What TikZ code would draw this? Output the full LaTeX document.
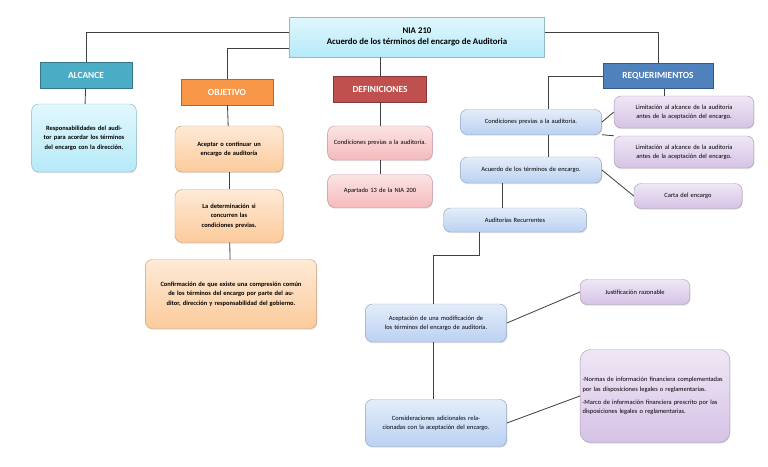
\documentclass[tikz,border=0pt]{standalone}
\usepackage{fontspec}
\setmainfont{Carlito}
\usetikzlibrary{positioning,shadows}
\definecolor{tealhd}{HTML}{4BACC6}
\definecolor{orghd}{HTML}{F79646}
\definecolor{redhd}{HTML}{C0504D}
\definecolor{bluehd}{HTML}{4F81BD}
\tikzset{
  head/.style={draw=#1!70!black, fill=#1, text=white, font=\bfseries\fontsize{8}{9}\selectfont, minimum height=0.78cm, inner sep=1pt},
  box/.style={draw=#1!60!gray, rounded corners=6pt, top color=#1!30, bottom color=#1!75,
    drop shadow={opacity=.25,shadow xshift=.5pt,shadow yshift=-1pt}, align=center, inner sep=2pt,
    font=\fontsize{5.5}{8}\selectfont},
  link/.style={draw=black!75, line width=0.7pt},
}
\definecolor{cyanbx}{HTML}{9DE3F7}
\definecolor{orgbx}{HTML}{FBB979}
\definecolor{redbx}{HTML}{F2A3A6}
\definecolor{bluebx}{HTML}{A4C2EE}
\definecolor{purbx}{HTML}{C8AEDD}
\begin{document}
\begin{tikzpicture}[x=0.03cm,y=-0.03cm]
\useasboundingbox (0,0) rectangle (768,466);

%% top and headers
\node[box=cyanbx, minimum width=7.65cm, minimum height=1.2cm, font=\bfseries\fontsize{7.5}{9}\selectfont, rounded corners=0pt] (nia) at (417,37) {NIA 210\\Acuerdo de los términos del encargo de Auditoria};
\node[head=tealhd, minimum width=2.76cm] (alcance) at (86,75) {ALCANCE};
\node[head=orghd, minimum width=2.76cm] (objetivo) at (227,92) {OBJETIVO};
\node[head=redhd, minimum width=2.79cm] (definic) at (380,89) {DEFINICIONES};
\node[head=bluehd, minimum width=3.3cm, minimum height=0.75cm] (requer) at (658,76) {REQUERIMIENTOS};

%% alcance / objetivo / definiciones
\node[box=cyanbx, text width=3.0cm, minimum height=2.04cm, font=\bfseries\fontsize{5.5}{8}\selectfont] (alc1) at (84,138) {Responsabilidades del auditor para acordar los términos del encargo con la dirección.};
\node[box=orgbx, text width=3.1cm, minimum height=1.38cm, font=\bfseries\fontsize{5.5}{8}\selectfont] (obj1) at (229,149) {Aceptar o continuar un encargo de auditoría};
\node[box=orgbx, text width=3.1cm, minimum height=1.59cm, font=\bfseries\fontsize{5.5}{8}\selectfont] (obj2) at (229,216) {La determinación si\\concurren las\\condiciones previas.};
\node[box=orgbx, text width=5.0cm, minimum height=2.07cm, font=\bfseries\fontsize{5.5}{8}\selectfont] (obj3) at (231,294) {Confirmación de que existe una compresión común de los términos del encargo por parte del auditor, dirección y responsabilidad del gobierno.};
\node[box=redbx, text width=3.0cm, minimum height=1.02cm] (def1) at (380,143) {Condiciones previas a la auditoría.};
\node[box=redbx, text width=3.0cm, minimum height=0.99cm] (def2) at (380,191) {Apartado 13 de la NIA 200};

%% requerimientos
\node[box=bluebx, text width=4.1cm, minimum height=0.75cm] (req1) at (531,122) {Condiciones previas a la auditoria.};
\node[box=purbx, text width=4.05cm, minimum height=0.96cm] (lim1) at (684,112) {Limitación al alcance de la auditoría antes de la aceptación del encargo.};
\node[box=purbx, text width=4.05cm, minimum height=0.96cm] (lim2) at (684,152) {Limitación al alcance de la auditoría antes de la aceptación del encargo.};
\node[box=bluebx, text width=4.1cm, minimum height=0.78cm] (acuerdo) at (531,170) {Acuerdo de los términos de encargo.};
\node[box=purbx, text width=3.1cm, minimum height=0.75cm] (carta) at (688,196) {Carta del encargo};
\node[box=bluebx, text width=4.15cm, minimum height=0.72cm] (recurr) at (515,220) {Auditorías Recurrentes};
\node[box=bluebx, text width=4.1cm, minimum height=1.14cm] (modif) at (436,323) {Aceptación de una modificación de los términos del encargo de auditoría.};
\node[box=purbx, text width=3.15cm, minimum height=0.75cm] (justif) at (635,292) {Justificación razonable};
\node[box=bluebx, text width=4.1cm, minimum height=1.41cm] (consid) at (436,423) {Consideraciones adicionales relacionadas con la aceptación del encargo.};
\node[box=purbx, rounded corners=9pt, text width=4.35cm, minimum height=2.79cm, align=left] (normas) at (655,396) {-Normas de información financiera complementadas por las disposiciones legales o reglamentarias.\\[3pt]-Marco de información financiera prescrito por las disposiciones legales o reglamentarias.};

%% connectors
\draw[link] (nia.west |- 0,32) -| (alcance);
\draw[link] (nia.west |- 0,48) -| (objetivo);
\draw[link] (nia.south -| definic) -- (definic);
\draw[link] (nia.east |- 0,32) -| (requer);
\draw[link] (alcance) -- (alc1);
\draw[link] (objetivo) -- (obj1);
\draw[link] (obj1) -- (obj2);
\draw[link] (obj2) -- (obj3);
\draw[link] (definic) -- (def1);
\draw[link] (def1) -- (def2);
\draw[link] (requer.west) -| (req1.north -| 548,0);
\draw[link] (requer.south -| 664,0) -- (lim1.north -| 664,0);
\draw[link] (req1.east) -- (lim1.west);
\draw[link] (req1.south east) -- (lim2.north west);
\draw[link] (req1.south -| 548,0) -- (acuerdo.north -| 548,0);
\draw[link] (acuerdo.east) -- (carta.west);
\draw[link] (acuerdo.south -| 502,0) -- (recurr.north -| 502,0);
\coordinate (bend) at (433,255);
\draw[link] (recurr.south -| 479,0) |- (bend) -- (modif.north -| bend);
\draw[link] (modif.east) -- (justif.west);
\draw[link] (modif.south -| bend) -- (consid.north -| bend);
\draw[link] (consid.east) -- (normas.west);
\end{tikzpicture}
\end{document}
